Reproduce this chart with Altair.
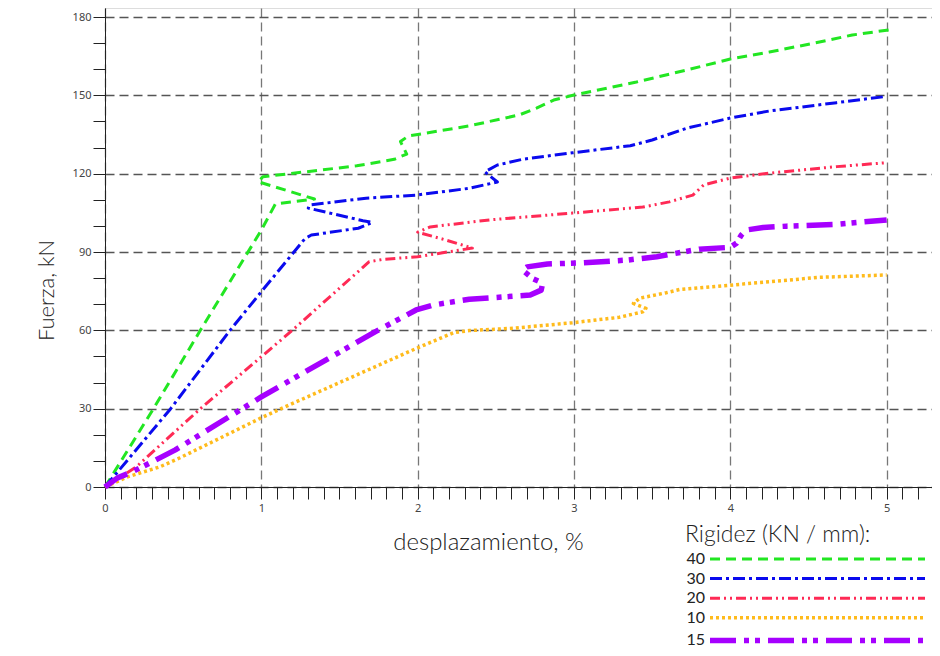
import altair as alt
import pandas as pd

# Series: Rigidez (KN/mm) -> (desplazamiento %, Fuerza kN)
g_x = [0, 0.31, 0.61, 1.0, 1.09, 1.34, 0.98, 1.01, 1.61, 1.85, 1.93, 1.89, 1.94, 2.33, 2.65, 2.76, 2.87, 3.0, 3.40, 3.72, 4.0, 4.25, 4.57, 4.78, 5.03]
g_y = [0, 30, 60, 98.4, 108.4, 110.3, 116.9, 118.8, 123, 125.5, 127.5, 132.3, 134.4, 138.3, 142.5, 145.1, 148.2, 150.1, 155.1, 159.7, 163.9, 166.6, 170.4, 173.1, 175.2]

b_x = [0, 0.42, 0.80, 1.0, 1.28, 1.32, 1.62, 1.67, 1.71, 1.65, 1.30, 1.31, 1.67, 1.99, 2.33, 2.51, 2.43, 2.51, 2.67, 2.99, 3.36, 3.50, 3.72, 4.0, 4.25, 4.68, 5.0]
b_y = [0, 30, 60, 74.8, 95.2, 96.5, 99.1, 100.3, 101.4, 102, 106.8, 108, 110.6, 111.8, 114.4, 116.8, 120.7, 123.3, 125.5, 128, 130.7, 132.9, 137.4, 141.3, 144, 147.2, 149.6]

r_x = [0, 0.2, 0.61, 1.0, 1.20, 1.69, 1.78, 2.0, 2.35, 2.18, 2.0, 2.08, 2.46, 2.99, 3.44, 3.61, 3.76, 3.83, 4.0, 4.25, 4.68, 5.0]
r_y = [0, 7.7, 30, 49.9, 60.1, 86.3, 87.2, 88.2, 91.5, 94.6, 97.6, 99.6, 102.3, 104.9, 107.2, 109.2, 111.8, 115.7, 118.3, 120.2, 122.7, 124.2]

o_x = [0, 0.14, 0.35, 0.48, 1.0, 1.14, 2.0, 2.23, 2.33, 2.61, 2.99, 3.29, 3.44, 3.46, 3.38, 3.42, 3.59, 3.68, 4.0, 4.57, 5.0]
o_y = [0, 3.8, 7.7, 11.2, 26.5, 30.4, 53.3, 59.1, 59.9, 60.8, 62.9, 65, 67.1, 68.4, 70.3, 72.3, 74.4, 75.7, 77.3, 80.3, 81.2]

p_x = [0, 0.08, 0.17, 0.30, 0.45, 1.0, 1.73, 1.99, 2.10, 2.33, 2.72, 2.79, 2.80, 2.74, 2.67, 2.70, 2.83, 3.04, 3.34, 3.53, 3.80, 4.0, 4.04, 4.07, 4.10, 4.21, 4.36, 4.68, 5.0]
p_y = [0, 3.5, 5.7, 9.6, 14.2, 34.5, 59.5, 67.8, 69.7, 71.9, 73.5, 75.4, 78.1, 79.7, 83.1, 84.3, 85.4, 85.8, 86.9, 88.2, 91.1, 91.8, 93.4, 96.5, 98.4, 99.4, 99.9, 100.6, 102.3]

series = ["40", "30", "20", "10", "15"]
colors = ["#22e622", "#0a0aee", "#ff2a55", "#ffbb1c", "#a600ff"]
dashes = [[10, 6], [12, 4, 3, 4], [10, 4, 2, 4, 2, 4], [3, 3], [26, 8, 5, 6, 5, 8]]
widths = [3, 3, 3, 3.5, 5.5]

xs = [g_x, b_x, r_x, o_x, p_x]
ys = [g_y, b_y, r_y, o_y, p_y]

rows = []
for k, w, xv, yv in zip(series, widths, xs, ys):
    for i, (a, b) in enumerate(zip(xv, yv)):
        rows.append({"k": k, "w": w, "x": a, "y": b, "i": i})
df = pd.DataFrame(rows)

x_ticks = [round(i * 0.1, 1) for i in range(0, 53)]
y_ticks = list(range(0, 181, 10))

width_expr = " : ".join(f"datum.value === '{k}' ? {w}" for k, w in zip(series, widths)) + " : 3"

legend = alt.Legend(
    orient="none", legendX=580, legendY=516,
    title="Rigidez (KN / mm):", titleFont="Lato", titleFontSize=23,
    titleFontWeight=300, titleColor="#222", titlePadding=4, titleLimit=400,
    labelFont="Lato", labelFontSize=16, labelColor="#222",
    labelAlign="right", labelOffset={"expr": "-23"},
    symbolType="M-2,0H41", symbolSize=100, symbolOffset=27,
    symbolStrokeWidth={"expr": width_expr},
    rowPadding=3.6,
)

xmajor = "abs(datum.value - round(datum.value)) < 0.001"

chart = alt.Chart(df).mark_line(strokeCap="butt", strokeJoin="round").encode(
    x=alt.X("x:Q", scale=alt.Scale(domain=[0, 5.29], nice=False, zero=False),
            axis=alt.Axis(values=x_ticks, title="desplazamiento, %",
                          labelExpr=f"{xmajor} ? format(datum.value, 'd') : ''",
                          labelFlush=False, labelFont="Noto Sans", labelFontSize=11,
                          labelColor="#444", labelPadding=3,
                          tickSize=12, tickColor="#222", domainColor="#222",
                          grid=True,
                          gridColor={"condition": {"test": xmajor, "value": "#777"}, "value": "transparent"},
                          gridDash=[9, 5], gridWidth=1.3,
                          titleFont="Lato", titleFontSize=24, titleFontWeight=300,
                          titleColor="#222", titleX=383, titleY=62,
                          titleBaseline="alphabetic", titleAlign="center")),
    y=alt.Y("y:Q", scale=alt.Scale(domain=[0, 183.45], nice=False),
            axis=alt.Axis(values=y_ticks, title="Fuerza, kN",
                          labelExpr="datum.value % 30 === 0 ? format(datum.value, 'd') : ''",
                          labelFont="Noto Sans", labelFontSize=11, labelColor="#444",
                          labelPadding=2, labelFlush=False,
                          tickSize=12, tickColor="#222", domainColor="#222",
                          grid=True,
                          gridColor={"condition": {"test": "datum.value % 30 === 0", "value": "#555"}, "value": "transparent"},
                          gridDash=[9, 5], gridWidth=1.3,
                          titleFont="Lato", titleFontSize=22, titleFontWeight=300,
                          titleColor="#222", titleX=-52, titleY=282,
                          titleBaseline="alphabetic", titleAlign="center", titleAngle=270)),
    order="i:Q",
    color=alt.Color("k:N", scale=alt.Scale(domain=series, range=colors), legend=legend),
    strokeDash=alt.StrokeDash("k:N", scale=alt.Scale(domain=series, range=dashes), legend=legend),
    strokeWidth=alt.StrokeWidth("w:Q", scale=None, legend=None),
    detail="k:N",
).properties(
    width=827, height=479,
    autosize=alt.AutoSizeParams(type="none"),
    padding={"left": 97, "top": 0, "right": 0, "bottom": 160},
).configure_view(stroke="black", strokeWidth=1.5).configure(background="white")

chart.save("out.html", embed_options={"renderer": "svg", "actions": False})
